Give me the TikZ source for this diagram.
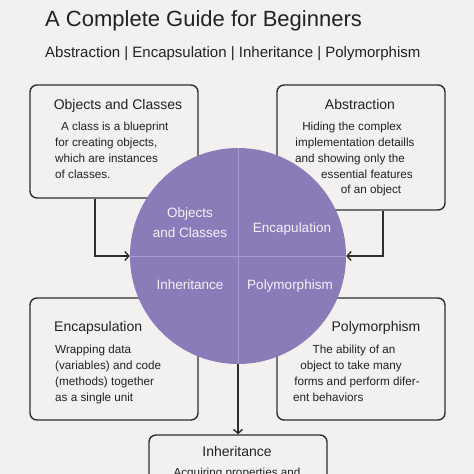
\documentclass[tikz,border=0pt]{standalone}
\usepackage{fontspec}
\setmainfont{Liberation Sans}
\usetikzlibrary{arrows.meta,calc}
\definecolor{bg}{HTML}{F2F1EF}
\definecolor{ink}{HTML}{222222}
\definecolor{edge}{HTML}{2E2E2E}
\definecolor{purp}{HTML}{8B7BB8}
\definecolor{divi}{HTML}{A89CCB}
\definecolor{wtxt}{HTML}{F4F2F8}
\begin{document}
\begin{tikzpicture}[x=1pt,y=-1pt,
 box/.style={draw=edge,line width=1.4pt,rounded corners=7pt,fill=bg,inner sep=0pt},
 btitle/.style={anchor=base,font=\fontsize{14}{16}\selectfont,text=ink,inner sep=0pt},
 bline/.style={anchor=base,font=\fontsize{11.7}{14}\selectfont,text=ink,inner sep=0pt},
 blinel/.style={bline,anchor=base west},
 qlabel/.style={anchor=base,font=\fontsize{13.5}{16}\selectfont,text=wtxt,inner sep=0pt},
 arr/.style={draw=edge,line width=1.4pt,-{Straight Barb[length=4pt,width=9pt]}}]
\fill[bg] (0,0) rectangle (474,474);
\useasboundingbox (0,0) rectangle (474,474);
\clip (0,0) rectangle (474,474);

% header
\node[anchor=base west,font=\fontsize{22}{26}\selectfont,text=ink,inner sep=0pt] (title) at (45,26) {A Complete Guide for Beginners};
\node[anchor=base west,font=\fontsize{15}{18}\selectfont,text=ink,inner sep=0pt] (subtitle) at (45,57) {Abstraction | Encapsulation | Inheritance | Polymorphism};

% boxes
\node[box,minimum width=168pt,minimum height=113pt] (tl) at (114,141.5) {};
\node[box,minimum width=168pt,minimum height=125pt] (tr) at (361,147.5) {};
\node[box,minimum width=168pt,minimum height=122pt] (bl) at (114,359) {};
\node[box,minimum width=168pt,minimum height=122pt] (br) at (361,359) {};
\node[box,minimum width=178pt,minimum height=90pt] (inh) at (238,480) {};

% top-left text
\node[btitle] (tlt) at (118,109) {Objects and Classes};
\node[blinel] (tl1) at (61,130) {A class is a blueprint};
\node[blinel] (tl2) at (55,146) {for creating objects,};
\node[blinel] (tl3) at (55,162) {which are instances};
\node[blinel] (tl4) at (55,178) {of classes.};

% top-right text
\node[btitle] (trt) at (360,109) {Abstraction};
\node[bline] (tr1) at (352,130) {Hiding the complex};
\node[bline] (tr2) at (355,146) {implementation detaills};
\node[bline] (tr3) at (350,162) {and showing only the};
\node[bline] (tr4) at (367,178) {essential features};
\node[bline] (tr5) at (371,193) {of an object};

% bottom-left text
\node[btitle,anchor=base west] (blt) at (54,331) {Encapsulation};
\node[blinel] (bl1) at (55,353) {Wrapping data};
\node[blinel] (bl2) at (55,369) {(variables) and code};
\node[blinel] (bl3) at (55,385) {(methods) together};
\node[blinel] (bl4) at (55,401) {as a single unit};

% bottom-right text
\node[btitle] (brt) at (376,331) {Polymorphism};
\node[bline] (br1) at (354,353) {The ability of an};
\node[bline] (br2) at (351,369) {object to take many};
\node[bline] (br3) at (357,385) {forms and perform difer-};
\node[blinel] (br4) at (293,401) {ent behaviors};

% bottom-center text
\node[btitle] (inht) at (237,456) {Inheritance};
\node[bline] (inh1) at (237,476) {Acquiring properties and};

% circle
\node[circle,fill=purp,minimum size=216pt,inner sep=0pt] (circ) at (238,256) {};
\draw[divi,line width=0.8pt] (circ.north) -- (circ.south);
\draw[divi,line width=0.8pt] (circ.west) -- (circ.east);
\node[qlabel] (q1a) at (190,217) {Objects};
\node[qlabel] (q1b) at (190,237) {and Classes};
\node[qlabel] (q2) at (292,232) {Encapulation};
\node[qlabel] (q3) at (190,289) {Inheritance};
\node[qlabel] (q4) at (290,289) {Polymorphism};

% connectors
\draw[arr] ($(tl.south west)!0.387!(tl.south east)$) |- (circ.west);
\draw[arr] ($(tr.south west)!0.631!(tr.south east)$) |- (circ.east);
\draw[arr] (circ.south) -- (inh.north);
\end{tikzpicture}
\end{document}
